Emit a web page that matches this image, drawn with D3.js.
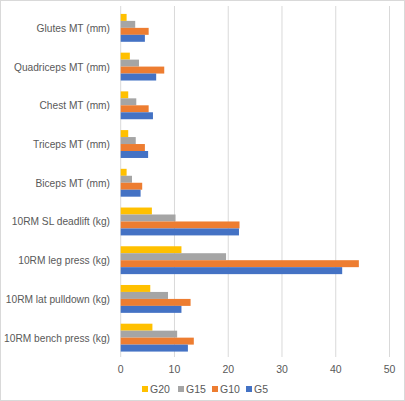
<!DOCTYPE html>
<html>
<head>
<meta charset="utf-8">
<script src="https://cdn.jsdelivr.net/npm/d3@7"></script>
<style>
  body { margin: 0; background: #fff; }
  svg { display: block; font-family: "Liberation Sans", Arial, sans-serif; }
</style>
</head>
<body>
<script>
// data
const categories = [
  "Glutes MT (mm)",
  "Quadriceps MT (mm)",
  "Chest MT (mm)",
  "Triceps MT (mm)",
  "Biceps MT (mm)",
  "10RM SL deadlift (kg)",
  "10RM leg press (kg)",
  "10RM lat pulldown (kg)",
  "10RM bench press (kg)"
];
const seriesNames = ["G20", "G15", "G10", "G5"];
const g20 = [1.1, 1.7, 1.4, 1.4, 1.1, 5.8, 11.3, 5.5, 5.9];
const g15 = [2.7, 3.4, 2.9, 2.8, 2.1, 10.2, 19.6, 8.8, 10.5];
const g10 = [5.2, 8.1, 5.2, 4.5, 4.0, 22.1, 44.3, 13.0, 13.6];
const g5 = [4.5, 6.6, 6.0, 5.1, 3.7, 22.0, 41.2, 11.3, 12.5];
const xTicks = [0, 10, 20, 30, 40, 50];
const colors = ["#FFC000", "#A5A5A5", "#ED7D31", "#4472C4"];

const values = [g20, g15, g10, g5];
const W = 405, H = 401;

const svg = d3.select("body").append("svg")
  .attr("width", W)
  .attr("height", H);

// outer frame
svg.append("rect")
  .attr("x", 0.5).attr("y", 0.5)
  .attr("width", W - 1).attr("height", H - 1)
  .attr("fill", "#fff")
  .attr("stroke", "#d9d9d9");

const x = d3.scaleLinear().domain([0, 50]).range([120.7, 389.5]);
const y = d3.scaleBand().domain(categories).range([8.5, 357]).paddingInner(0.28).paddingOuter(0.14);
const sub = d3.scaleBand().domain(seriesNames).range([0, y.bandwidth()]);

// gridlines
svg.append("g")
  .selectAll("line")
  .data(xTicks)
  .join("line")
  .attr("x1", d => x(d)).attr("x2", d => x(d))
  .attr("y1", 6).attr("y2", 357)
  .attr("stroke", "#d9d9d9")
  .attr("stroke-width", 1);

// tick labels
svg.append("g")
  .selectAll("text")
  .data(xTicks)
  .join("text")
  .attr("x", d => x(d))
  .attr("y", 373)
  .attr("text-anchor", "middle")
  .attr("font-size", 10.5)
  .attr("fill", "#595959")
  .text(d => d);

// category labels
svg.append("g")
  .selectAll("text")
  .data(categories)
  .join("text")
  .attr("x", 110)
  .attr("y", d => y(d) + y.bandwidth() / 2 + 4)
  .attr("text-anchor", "end")
  .attr("font-size", 10.2)
  .attr("fill", "#595959")
  .text(d => d);

// bars
seriesNames.forEach((s, i) => {
  svg.append("g")
    .attr("fill", colors[i])
    .selectAll("rect")
    .data(values[i])
    .join("rect")
    .attr("x", x(0))
    .attr("y", (d, j) => y(categories[j]) + sub(s))
    .attr("width", d => x(d) - x(0))
    .attr("height", sub.bandwidth());
});

// legend
const legendX = [142, 178, 212, 246];
const legend = svg.append("g");
seriesNames.forEach((s, i) => {
  legend.append("rect")
    .attr("x", legendX[i]).attr("y", 386)
    .attr("width", 6).attr("height", 6)
    .attr("fill", colors[i]);
  legend.append("text")
    .attr("x", legendX[i] + 8)
    .attr("y", 393)
    .attr("font-size", 10.5)
    .attr("fill", "#595959")
    .text(s);
});
</script>
</body>
</html>
